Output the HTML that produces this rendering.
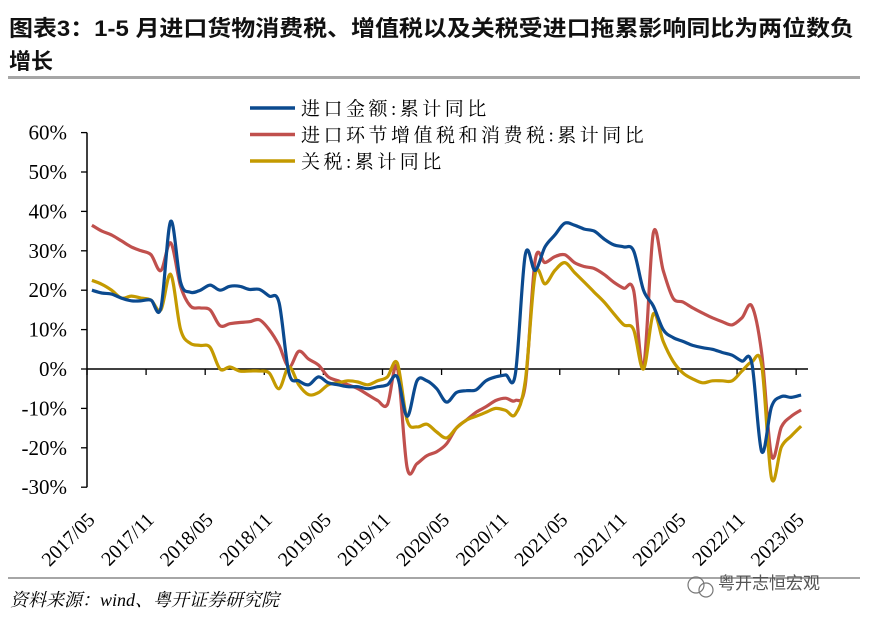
<!DOCTYPE html>
<html><head><meta charset="utf-8"><style>
html,body{margin:0;padding:0;background:#fff;}
svg{display:block;}
.serif{font-family:"Liberation Serif","Noto Serif CJK SC",serif;}
</style></head><body>
<svg id="chart" width="871" height="619" viewBox="0 0 871 619" xmlns="http://www.w3.org/2000/svg">
<g style="font-family:'Liberation Sans','Noto Sans CJK SC',sans-serif" font-weight="bold" font-size="22" fill="#111">
<text x="9" y="36" textLength="845" lengthAdjust="spacingAndGlyphs">图表3：1-5 月进口货物消费税、增值税以及关税受进口拖累影响同比为两位数负</text>
<text x="9" y="69">增长</text>
</g>
<rect x="8" y="76" width="852" height="3" fill="#a6a6a6"/>
<g id="legend" class="serif" font-size="19" fill="#000"></g>
<g id="yaxis" class="serif" font-size="21" fill="#000"></g>
<g id="xaxis" class="serif" font-size="20" fill="#000"></g>
<g id="series"></g>
<rect x="8" y="577" width="852" height="2" fill="#a6a6a6"/>
<text class="serif" x="10" y="606" font-style="italic" font-size="18" fill="#000">资料来源：wind、粤开证券研究院</text>
<g fill="#555">
<circle cx="696" cy="585" r="8" fill="none" stroke="#777" stroke-width="1.2"/>
<circle cx="706" cy="590" r="7" fill="none" stroke="#777" stroke-width="1.2"/>
<text x="718" y="589" style="font-family:'Noto Sans CJK SC',sans-serif" font-size="17">粤开志恒宏观</text>
</g>
</svg>
<script>
const categories = [];
for (let y = 2017, m = 5; categories.length < 73; ) { categories.push(y + '/' + String(m).padStart(2,'0')); m++; if (m > 12) { m = 1; y++; } }
const importValue = [20,19.3,19,18,17.3,17.3,17.5,15.5,37.5,22,19.5,20,21.3,20,21,21,20.2,20.2,18.5,16.8,-1,-3,-4,-2,-3.5,-4,-4.5,-4.5,-5,-4.5,-4,-2,-12,-3,-3,-5,-8.4,-6,-5.5,-5.3,-3,-2,-1.5,-1.2,29,25,31,34,37,36.5,35.5,35,33,31.5,31,30,20,16,10,8,7,6,5.4,5,4.2,3.5,2,1.5,-21,-9.6,-7,-7.2,-6.6];
const vatConsumption = [36.5,35,34,32.5,31,30,29,25,32,21,16,15.5,15,11,11.5,11.8,12,12.5,10,6,0.5,4.5,2.5,1,-2,-3,-4,-5,-6.5,-8,-9,0.5,-25,-24,-22,-21,-19,-15,-13,-11,-9.6,-8,-7.4,-8,-4,27.5,27,28.5,29,27,26,25.5,24,22,20.5,20,0.5,34.5,25,18,17,15.5,14.2,13,12,11.2,13,16,4,-22,-14.7,-12,-10.4];
const tariff = [22.5,21.5,20,18,18.5,18,17.5,15,24,10,6.5,6,5.5,0,0.5,-0.5,-0.5,-0.5,-1,-5,0.5,-4,-6.5,-6,-4,-3.5,-3,-3.3,-4,-3,-2,1.5,-13,-14.7,-14,-16,-17.5,-15,-13,-12,-11,-10,-10.5,-11.5,-3,24,21.6,25,27,24.5,22,19.5,17,14,11.2,10,0,14,7,2,-1,-2.5,-3.5,-3,-3,-3,-0.5,1.8,1,-27.7,-19.8,-17,-14.5];
const yTicks = [60,50,40,30,20,10,0,-10,-20,-30];
const seriesNames = ['进口金额:累计同比','进口环节增值税和消费税:累计同比','关税:累计同比'];

const NS='http://www.w3.org/2000/svg';
const X0=87, X1=806, Y0=369, PER=3.94;
const step=(X1-X0)/categories.length;
function xPos(i){return X0+(i+0.5)*step;}
function yPos(v){return Y0-v*PER;}
function mk(tag,attrs,parent){const e=document.createElementNS(NS,tag);for(const k in attrs)e.setAttribute(k,attrs[k]);parent.appendChild(e);return e;}

const ya=document.getElementById('yaxis');
const yl=mk('line',{x1:X0,y1:yPos(60),x2:X0,y2:yPos(-30),stroke:'#000','stroke-width':1.5},ya);


yTicks.forEach(t=>{
  const tk=mk('line',{x1:X0-6,y1:yPos(t),x2:X0,y2:yPos(t),stroke:'#000','stroke-width':1.3},ya);
  
  
  const tx=mk('text',{x:X0-20,y:yPos(t)+7,'text-anchor':'end'},ya);
  tx.textContent=t+'%';
  
  
});

const xa=document.getElementById('xaxis');
const xl=mk('line',{x1:X0,y1:Y0,x2:X1+2,y2:Y0,stroke:'#000','stroke-width':1.5},xa);


for(let i=0;i<categories.length;i+=6){
  const x=X0+i*step;
  const tk=mk('line',{x1:x,y1:Y0,x2:x,y2:Y0+6,stroke:'#000','stroke-width':1.3},xa);
  
  
  const tx=mk('text',{x:0,y:0,'text-anchor':'end',transform:'translate('+(x+9)+',521) rotate(-45)'},xa);
  tx.textContent=categories[i];
  
  
}

function smoothPath(vals){
  const p=vals.map((v,i)=>[xPos(i),yPos(v)]);
  let d='M'+p[0][0].toFixed(1)+','+p[0][1].toFixed(1);
  for(let i=0;i<p.length-1;i++){
    const a=p[Math.max(0,i-1)],b=p[i],c=p[i+1],e=p[Math.min(p.length-1,i+2)];
    const c1=[b[0]+(c[0]-a[0])/6,b[1]+(c[1]-a[1])/6], c2=[c[0]-(e[0]-b[0])/6,c[1]-(e[1]-b[1])/6];
    d+=' C'+c1[0].toFixed(1)+','+c1[1].toFixed(1)+' '+c2[0].toFixed(1)+','+c2[1].toFixed(1)+' '+c[0].toFixed(1)+','+c[1].toFixed(1);
  }
  return d;
}
const sg=document.getElementById('series');
const ordered=[[vatConsumption,'#c0504d','vat-consumption-line'],[tariff,'#c49a00','tariff-line'],[importValue,'#0b4a8f','import-value-line']];
ordered.forEach(s=>{
  const p=mk('path',{d:smoothPath(s[0]),fill:'none',stroke:s[1],'stroke-width':3.2,'stroke-linejoin':'round'},sg);
  
  
});

const lg=document.getElementById('legend');
const lcol=['#0b4a8f','#c0504d','#c49a00'];
seriesNames.forEach((n,i)=>{
  const y=108+i*26.5;
  const l=mk('line',{x1:250,y1:y,x2:295,y2:y,stroke:lcol[i],'stroke-width':3.5},lg);
  
  
  const t=mk('text',{x:301,y:y+7,'letter-spacing':'3.5'},lg);
  t.textContent=n;
  
  
});
</script>
</body></html>
